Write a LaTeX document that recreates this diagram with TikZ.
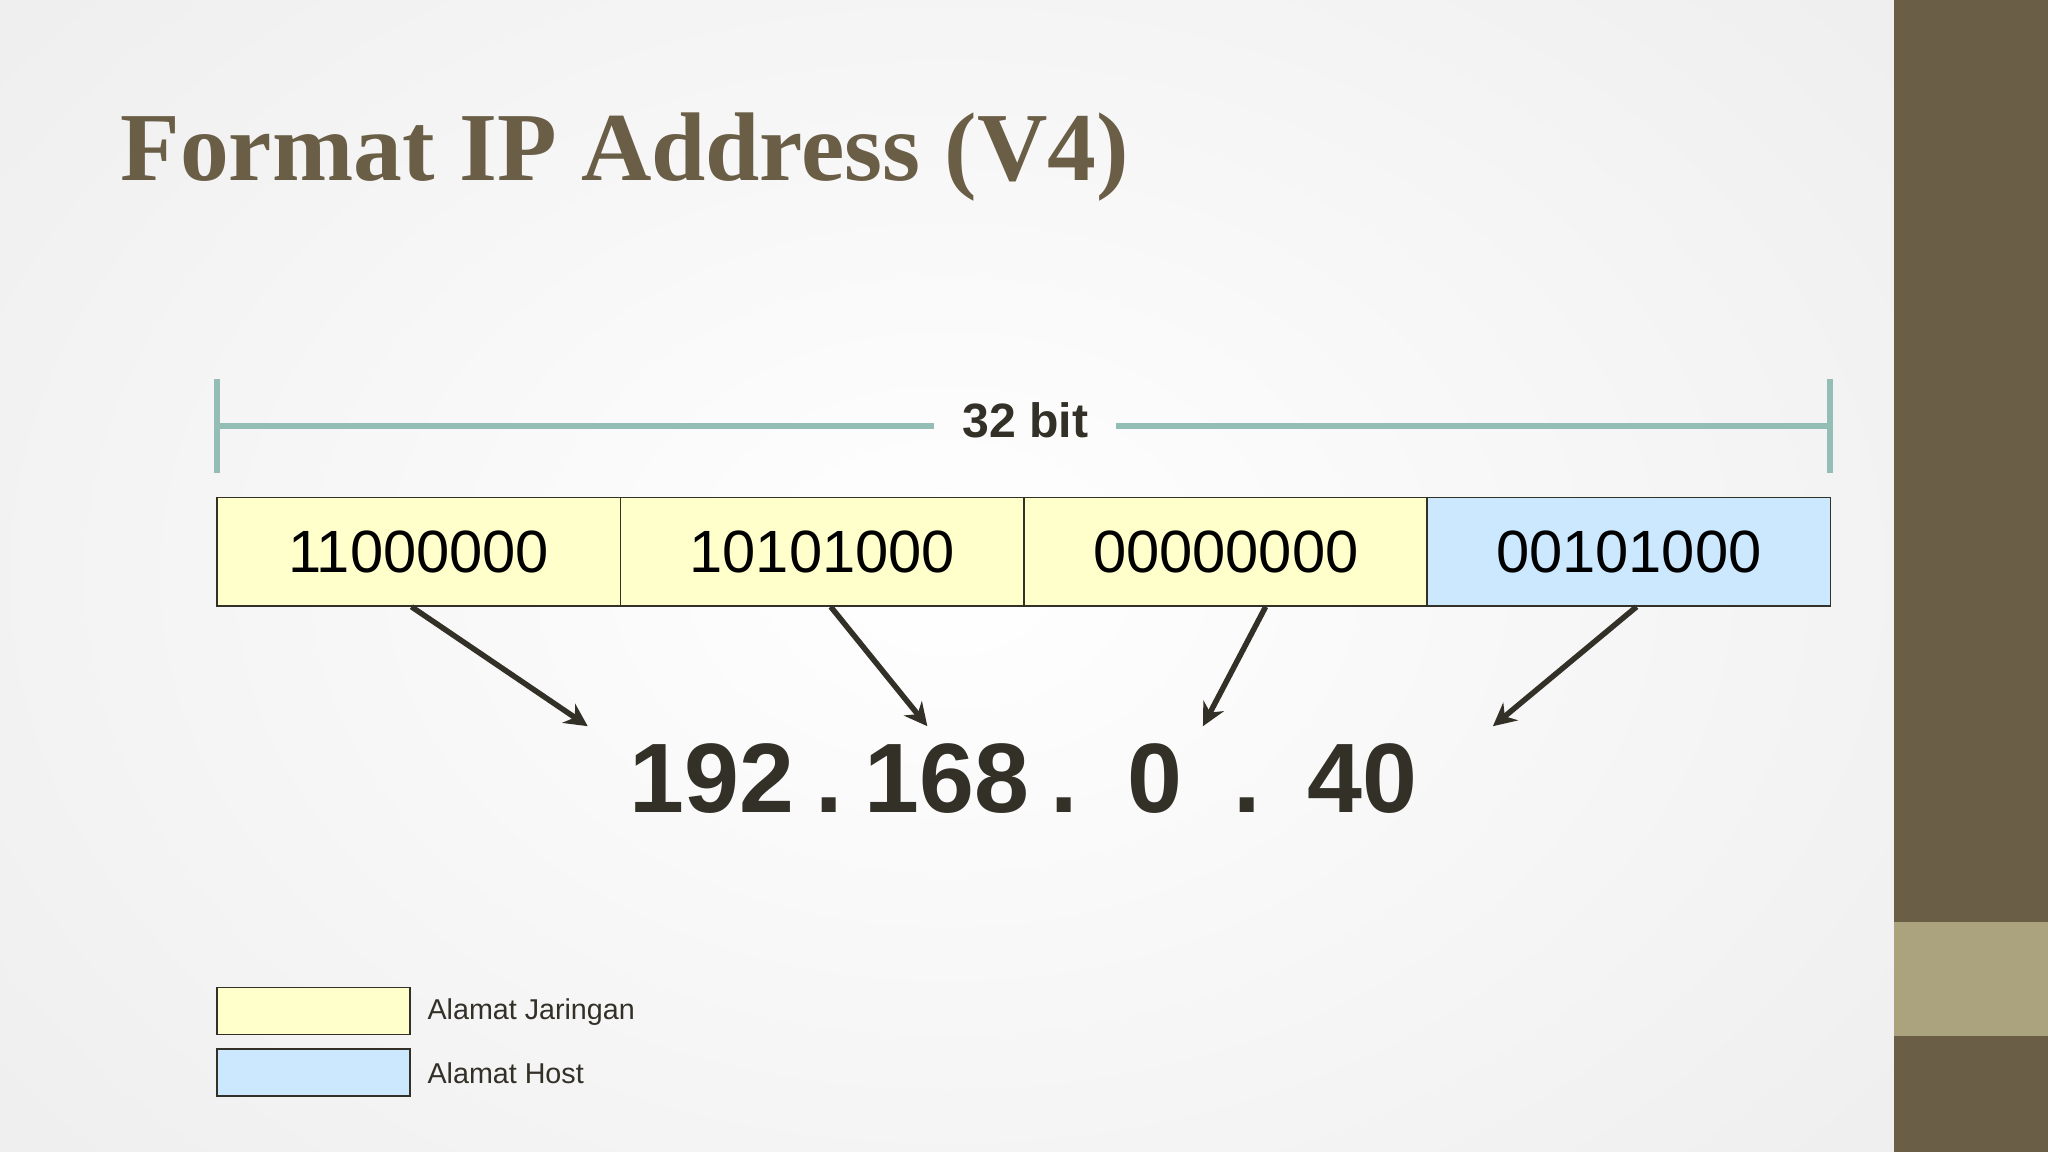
\documentclass[tikz,border=0pt]{standalone}
\usepackage{fontspec}
\setmainfont{Liberation Sans}
\newfontfamily\titlefont{Liberation Serif}
\usetikzlibrary{arrows.meta}
\definecolor{brownd}{HTML}{6B5E47}
\definecolor{brownl}{HTML}{AAA37E}
\definecolor{teal2}{HTML}{94BDB5}
\definecolor{yel}{HTML}{FFFFCC}
\definecolor{blu}{HTML}{CCE8FF}
\definecolor{dark}{HTML}{333027}
\tikzset{x=0.02cm,y=-0.02cm,
  cell/.style={draw=dark,line width=0.6pt,minimum width=6.18cm,minimum height=1.66cm,inner sep=0pt,font=\fontsize{26}{28}\selectfont,text=black},
  legbox/.style={draw=dark,line width=0.6pt,minimum width=2.96cm,minimum height=0.72cm,inner sep=0pt},
  arr/.style={draw=dark,line width=2.4pt,-{Stealth[length=10pt,width=10pt]}},
  big/.style={font=\fontsize{43}{46}\selectfont\bfseries,text=dark,inner sep=0pt,anchor=base},
  leg/.style={font=\fontsize{12.5}{14}\selectfont,text=dark,anchor=west,inner sep=0pt}}
\begin{document}
\begin{tikzpicture}
\useasboundingbox (0,0) rectangle (1568,882);
\shade[inner color=white,outer color=gray!14] (-300,-300) rectangle (1750,1180);
\fill[brownd] (1450,0) rectangle (1568,882);
\fill[brownl] (1450,706) rectangle (1568,793);
\node[anchor=base west,inner sep=0pt,text=brownd,font=\titlefont\bfseries\fontsize{42.5}{46}\selectfont] (title) at (92,138) {Format IP Address (V4)};
% 32 bit
\node[font=\fontsize{21}{24}\selectfont\bfseries,text=dark,inner sep=12pt] (bits) at (785,322) {32 bit};
\coordinate (bl) at (166,326); \coordinate (br) at (1401,326);
\draw[teal2,line width=2.4pt] (bl) -- (bits.west |- bl) (bits.east |- br) -- (br);
\draw[teal2,line width=2.4pt] (166,290) -- (166,362) (1401,290) -- (1401,362);
% cells
\node[cell,fill=yel] (c1) at (320.5,422.5) {11000000};
\node[cell,fill=yel] (c2) at (629.5,422.5) {10101000};
\node[cell,fill=yel] (c3) at (938.5,422.5) {00000000};
\node[cell,fill=blu] (c4) at (1247,422.5) {00101000};
% numbers
\node[big] (n1) at (545,622) {192};
\node[big] (d1) at (635,622) {.};
\node[big] (n2) at (725,622) {168};
\node[big] (d2) at (815,622) {.};
\node[big] (n3) at (884,622) {0};
\node[big] (d3) at (955,622) {.};
\node[big] (n4) at (1043,622) {40};
\coordinate (t1) at (450,556); \coordinate (t2) at (710,556);
\coordinate (t3) at (921,556); \coordinate (t4) at (1143,556);
\draw[arr] (c1.south -| 315,0) -- (t1);
\draw[arr] (c2.south -| 636,0) -- (t2);
\draw[arr] (c3.south -| 969,0) -- (t3);
\draw[arr] (c4.south -| 1253,0) -- (t4);
% legend
\node[legbox,fill=yel] (l1) at (240,774) {};
\node[legbox,fill=blu] (l2) at (240,821) {};
\node[leg] (lt1) at (327,775) {Alamat Jaringan};
\node[leg] (lt2) at (327,822) {Alamat Host};
\end{tikzpicture}
\end{document}
